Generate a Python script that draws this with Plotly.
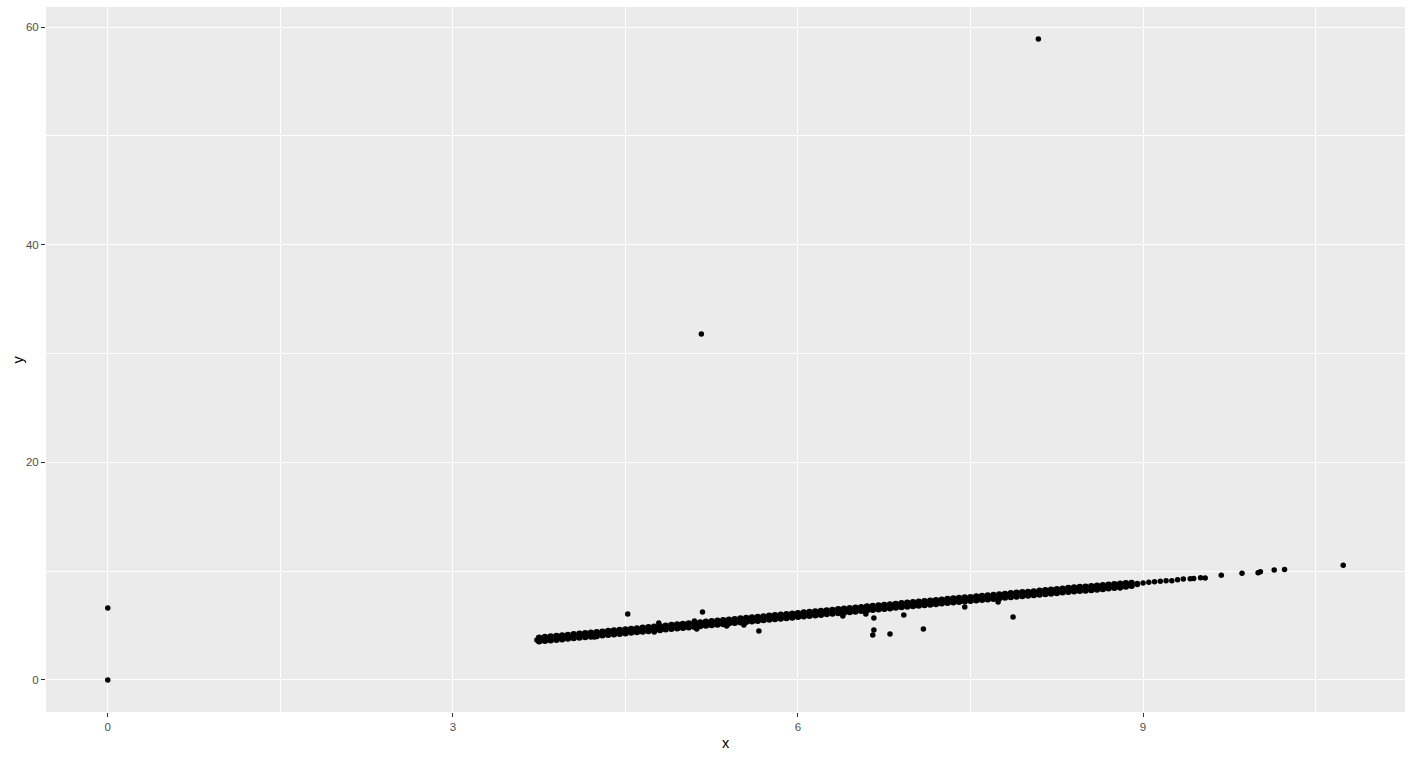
import plotly.graph_objects as go

# Dense main band: x, upper edge y, lower edge y
band_x = [3.75, 3.80, 3.85, 3.90, 3.95, 4.00, 4.05, 4.10, 4.15, 4.20, 4.25, 4.30, 4.35, 4.40, 4.45,
          4.50, 4.55, 4.60, 4.65, 4.70, 4.75, 4.80, 4.85, 4.90, 4.95, 5.00, 5.05, 5.10, 5.15, 5.20,
          5.25, 5.30, 5.35, 5.40, 5.45, 5.50, 5.55, 5.60, 5.65, 5.70, 5.75, 5.80, 5.85, 5.90, 5.95,
          6.00, 6.05, 6.10, 6.15, 6.20, 6.25, 6.30, 6.35, 6.40, 6.45, 6.50, 6.55, 6.60, 6.65, 6.70,
          6.75, 6.80, 6.85, 6.90, 6.95, 7.00, 7.05, 7.10, 7.15, 7.20, 7.25, 7.30, 7.35, 7.40, 7.45,
          7.50, 7.55, 7.60, 7.65, 7.70, 7.75, 7.80, 7.85, 7.90, 7.95, 8.00, 8.05, 8.10, 8.15, 8.20,
          8.25, 8.30, 8.35, 8.40, 8.45, 8.50, 8.55, 8.60, 8.65, 8.70, 8.75, 8.80, 8.85, 8.90]
band_y_hi = [3.89, 3.94, 3.99, 4.04, 4.09, 4.14, 4.19, 4.24, 4.29, 4.34, 4.39, 4.44, 4.49, 4.54, 4.59,
             4.64, 4.69, 4.74, 4.79, 4.84, 4.89, 4.94, 4.99, 5.04, 5.09, 5.14, 5.19, 5.24, 5.29, 5.34,
             5.39, 5.44, 5.49, 5.54, 5.59, 5.64, 5.69, 5.74, 5.79, 5.84, 5.89, 5.94, 5.99, 6.04, 6.09,
             6.14, 6.19, 6.24, 6.29, 6.34, 6.39, 6.44, 6.49, 6.54, 6.59, 6.64, 6.69, 6.74, 6.79, 6.84,
             6.89, 6.94, 6.99, 7.04, 7.09, 7.13, 7.18, 7.23, 7.28, 7.33, 7.38, 7.43, 7.48, 7.53, 7.58,
             7.61, 7.66, 7.71, 7.76, 7.81, 7.86, 7.91, 7.96, 8.01, 8.06, 8.09, 8.14, 8.19, 8.24, 8.29,
             8.34, 8.39, 8.44, 8.49, 8.54, 8.56, 8.61, 8.66, 8.71, 8.76, 8.80, 8.84, 8.88, 8.92]
band_y_lo = [3.55, 3.60, 3.65, 3.70, 3.75, 3.80, 3.85, 3.90, 3.95, 4.00, 4.05, 4.10, 4.15, 4.20, 4.25,
             4.30, 4.35, 4.40, 4.45, 4.50, 4.55, 4.60, 4.65, 4.70, 4.75, 4.80, 4.85, 4.90, 4.95, 5.00,
             5.05, 5.10, 5.15, 5.20, 5.25, 5.30, 5.35, 5.40, 5.45, 5.50, 5.55, 5.60, 5.65, 5.70, 5.75,
             5.80, 5.85, 5.90, 5.95, 6.00, 6.05, 6.10, 6.15, 6.20, 6.25, 6.30, 6.35, 6.40, 6.45, 6.50,
             6.55, 6.60, 6.65, 6.70, 6.75, 6.79, 6.84, 6.89, 6.94, 6.99, 7.04, 7.09, 7.14, 7.19, 7.24,
             7.27, 7.32, 7.37, 7.42, 7.47, 7.52, 7.57, 7.62, 7.67, 7.72, 7.75, 7.80, 7.85, 7.90, 7.95,
             8.00, 8.05, 8.10, 8.15, 8.20, 8.22, 8.27, 8.32, 8.37, 8.42, 8.48, 8.54, 8.60, 8.66]

# Sparse tail and isolated points
tail_x = [8.95, 9.00, 9.05, 9.10, 9.15, 9.20, 9.25, 9.30, 9.35, 9.41, 9.44, 9.50, 9.54, 9.68, 9.86, 10.00, 10.02, 10.14, 10.23, 10.74]
tail_y = [8.86, 8.92, 8.98, 9.03, 9.08, 9.12, 9.12, 9.22, 9.27, 9.31, 9.33, 9.40, 9.38, 9.63, 9.81, 9.85, 9.94, 10.10, 10.16, 10.54]

other_x = [0.00, 0.00, 5.16, 8.09, 4.52, 5.17, 5.66, 6.66, 6.66, 6.65, 6.80, 6.92, 7.45, 7.87, 7.74, 6.39, 6.59, 7.09,
           5.53, 5.38, 4.23, 4.75, 5.12, 4.79, 5.10, 3.73, 8.80, 8.95]
other_y = [0.00, 6.62, 31.80, 58.90, 6.07, 6.25, 4.50, 5.70, 4.60, 4.14, 4.23, 5.97, 6.71, 5.79, 7.17, 5.88, 6.07, 4.69,
           5.05, 4.96, 3.95, 4.41, 4.69, 5.24, 5.42, 3.68, 8.45, 8.78]

x_ticks = [0, 3, 6, 9]
y_ticks = [0, 20, 40, 60]

fig = go.Figure()
for xs, ys, sz in [(band_x, band_y_hi, 6.5), (band_x, band_y_lo, 6.5), (tail_x, tail_y, 5.5), (other_x, other_y, 5.5)]:
    fig.add_trace(go.Scatter(x=xs, y=ys, mode="markers",
                             marker=dict(color="black", size=sz, line=dict(width=0)),
                             showlegend=False, hoverinfo="x+y"))

font_family = "Liberation Sans, Arial, sans-serif"
axis_common = dict(
    showgrid=True, gridcolor="white", gridwidth=1.1, zeroline=False,
    ticks="outside", ticklen=4, tickwidth=1, tickcolor="#333333",
    tickfont=dict(family=font_family, size=11.5, color="#4D4D4D"),
    showline=False,
)
fig.update_xaxes(**axis_common, range=[-0.537, 11.277], tickvals=x_ticks,
                 minor=dict(showgrid=True, gridcolor="white", gridwidth=0.55, tickvals=[1.5, 4.5, 7.5, 10.5], ticks=""),
                 title=dict(text="x", font=dict(family=font_family, size=14.5, color="black"), standoff=6))
fig.update_yaxes(**axis_common, range=[-2.945, 61.845], tickvals=y_ticks,
                 minor=dict(showgrid=True, gridcolor="white", gridwidth=0.55, tickvals=[10, 30, 50], ticks=""))

fig.add_annotation(text="y", xref="paper", yref="paper", x=0, y=0.5, xanchor="center", yanchor="middle",
                   xshift=-29, textangle=-90, showarrow=False,
                   font=dict(family=font_family, size=14.5, color="black"))

fig.update_layout(
    width=1413, height=759,
    margin=dict(l=46, r=8, t=7, b=47, autoexpand=False),
    plot_bgcolor="#EBEBEB", paper_bgcolor="white",
)
fig.write_html("out.html", config={"displayModeBar": False},
               post_script="document.body.style.margin='0';document.body.style.overflow='hidden';")
